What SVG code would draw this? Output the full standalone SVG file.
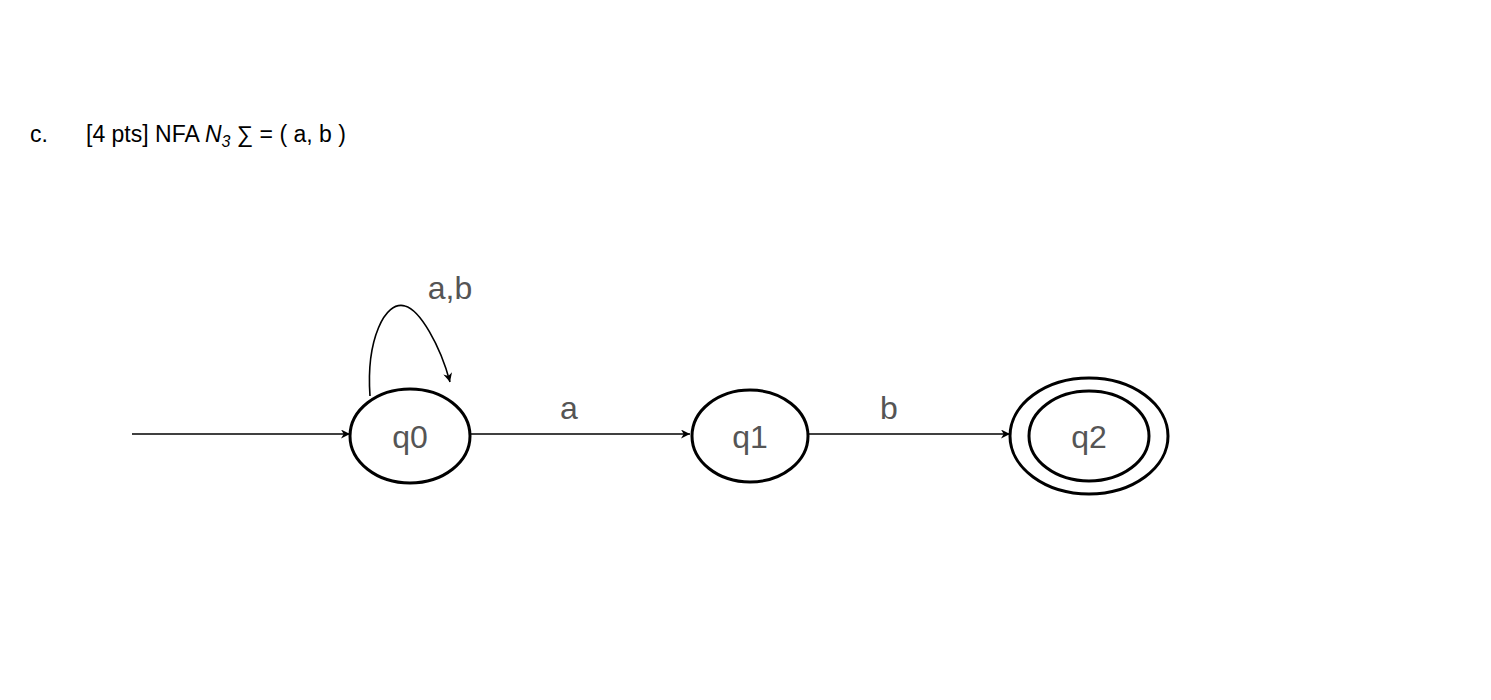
<svg xmlns="http://www.w3.org/2000/svg" width="1491" height="700" viewBox="0 0 1491 700">
<style>
.st{fill:#fff;stroke:#000;stroke-width:3}
.ed{fill:none;stroke:#000;stroke-width:1.6}
.lb{font-family:"Liberation Sans",Arial,sans-serif;font-size:32px;fill:#555;text-anchor:middle}
.tt{font-family:"Liberation Sans",Arial,sans-serif;font-size:23px;fill:#000}
</style>
<defs><marker id="ah" viewBox="0 0 10 10" refX="10" refY="5" markerWidth="9" markerHeight="9" markerUnits="userSpaceOnUse" orient="auto"><path d="M0,0L10,5L0,10L3,5z" fill="#000"/></marker></defs>
<rect width="1491" height="700" fill="#fff"/>
<text class="tt" x="30" y="142">c.</text>
<text class="tt" x="86" y="142">[4 pts] NFA <tspan font-style="italic">N</tspan><tspan font-style="italic" font-size="16" dy="5">3</tspan><tspan dy="-5"> ∑ = ( a, b )</tspan></text>
<g id="edges">
<path class="ed" d="M132,434L350,434" marker-end="url(#ah)"/>
<path class="ed" d="M470,434L690,434" marker-end="url(#ah)"/>
<path class="ed" d="M808,434L1010,434" marker-end="url(#ah)"/>
<path class="ed" d="M370,396C366,340 385,300 405,306C420,310 440,345 450,382" marker-end="url(#ah)"/>
<text class="lb" x="450" y="299">a,b</text>
<text class="lb" x="569" y="419">a</text>
<text class="lb" x="889" y="419">b</text>
</g>
<g id="q0"><ellipse class="st" cx="410" cy="436" rx="60" ry="47"/><text class="lb" x="410" y="448">q0</text></g>
<g id="q1"><ellipse class="st" cx="750" cy="436" rx="58" ry="46"/><text class="lb" x="750" y="448">q1</text></g>
<g id="q2"><ellipse class="st" cx="1089" cy="436" rx="79" ry="58"/><ellipse class="st" cx="1089" cy="436" rx="60" ry="45"/><text class="lb" x="1089" y="448">q2</text></g>
</svg>
